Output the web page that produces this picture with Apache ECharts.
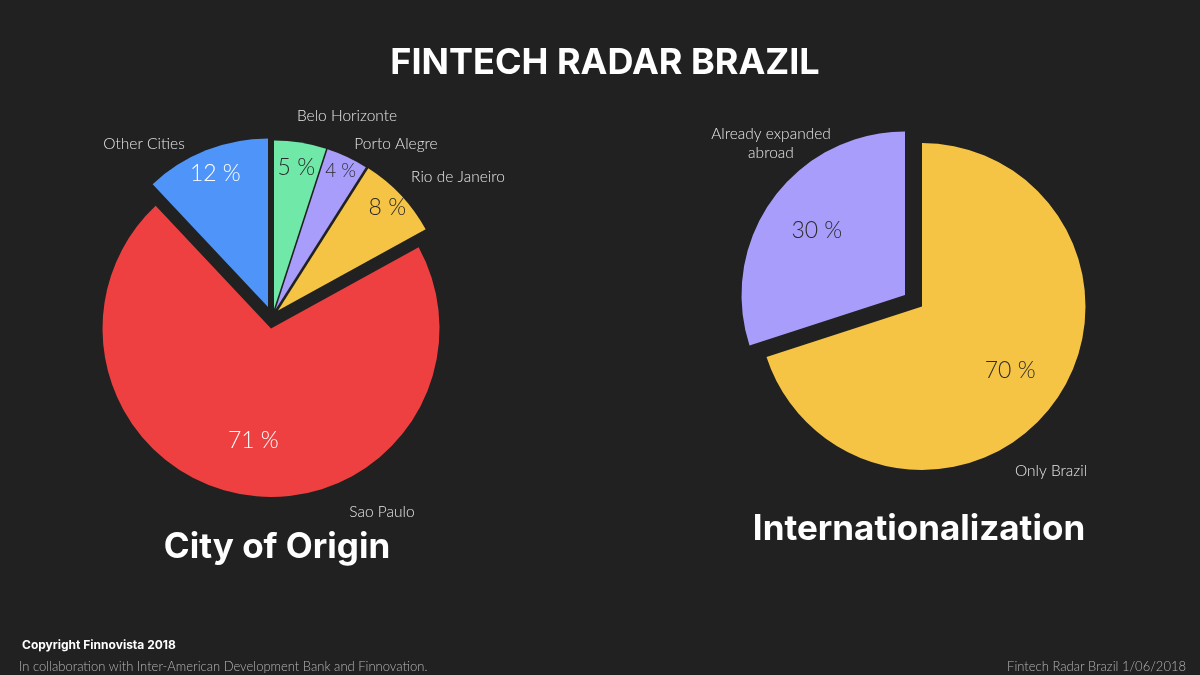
<!DOCTYPE html>
<html lang="en">
<head>
    <meta charset="UTF-8">
    <title>Fintech Radar Brazil</title>
    <script src="https://cdn.jsdelivr.net/npm/echarts@6.0.0/dist/echarts.min.js"></script>
    <style>
        html, body { margin: 0; padding: 0; background: #212121; }
    </style>
</head>
<body>
    <div id="main" style="width: 1200px; height: 675px;"></div>

    <script>
        // data, clockwise from 12 o'clock
        var cityNames = ['Belo Horizonte', 'Porto Alegre', 'Rio de Janeiro', 'Sao Paulo', 'Other Cities'];
        var cityValues = [5, 4, 8, 71, 12];
        var abroadNames = ['Only Brazil', 'Already expanded\nabroad'];
        var abroadValues = [70, 30];

        var chart = echarts.init(document.getElementById('main'));
        var labelFont = 'Lato';
        var dark = '#2b2b2b';

        // styling per slice: centre (the explode offset), colour, percent label radius and colour, name position
        var cityStyle = [
            {center: [274, 309], color: '#6fe8a8', r: 140, text: dark, name: [347, 116]},
            {center: [275.5, 309.5], color: '#a99dfb', r: 150, text: dark, name: [396, 144]},
            {center: [278, 310.5], color: '#f6c445', r: 147, text: dark, name: [458, 177]},
            {center: [271, 328.5], color: '#ee4040', r: 110, text: '#fff', name: [382, 512]},
            {center: [268, 307], color: '#4f94f8', r: 140, text: '#fff', name: [144, 144]}
        ];
        var abroadStyle = [
            {center: [922, 306.5], color: '#f6c445', r: 106, text: dark, name: [1051, 471]},
            {center: [905, 295], color: '#a99dfb', r: 106, text: dark, name: [771, 143]}
        ];

        // one series per slice so each can have its own offset, the other slices stay invisible
        function sliceSeries(names, values, style, radius) {
            var out = [];
            style.forEach(function (s, i) {
                function items(showLabel) {
                    return values.map(function (v, j) {
                        return {
                            value: v,
                            name: names[j],
                            itemStyle: {color: i === j ? s.color : 'transparent'},
                            label: {show: showLabel && i === j}
                        };
                    });
                }
                // the slice with its name
                out.push({
                    type: 'pie',
                    silent: true,
                    animation: false,
                    startAngle: 90,
                    center: s.center,
                    radius: [0, radius],
                    data: items(true),
                    label: {
                        color: '#e6e6e6',
                        fontFamily: labelFont,
                        fontWeight: 300,
                        fontSize: 15.5,
                        lineHeight: 19,
                        align: 'center',
                        formatter: '{b}'
                    },
                    labelLine: {show: false},
                    labelLayout: {x: s.name[0], y: s.name[1], align: 'center', verticalAlign: 'middle'}
                });
                // thin invisible ring that only carries the percent label
                out.push({
                    type: 'pie',
                    silent: true,
                    animation: false,
                    startAngle: 90,
                    center: s.center,
                    radius: [s.r - 10, s.r + 10],
                    data: items(true).map(function (d) {
                        d.itemStyle = {color: 'transparent'};
                        return d;
                    }),
                    label: {
                        position: 'inside',
                        color: s.text,
                        fontFamily: labelFont,
                        fontWeight: 300,
                        fontSize: s.r === 150 ? 19 : 23,
                        formatter: '{c} %'
                    },
                    labelLine: {show: false}
                });
            });
            return out;
        }

        var option = {
            backgroundColor: '#212121',
            title: [
                {
                    text: 'FINTECH RADAR BRAZIL',
                    left: 600, top: 40,
                    textAlign: 'center',
                    textStyle: {color: '#fff', fontFamily: 'Inter', fontWeight: 700, fontSize: 36}
                },
                {
                    text: 'City of Origin',
                    left: 272, top: 525,
                    textAlign: 'center',
                    textStyle: {color: '#fff', fontFamily: 'Inter', fontWeight: 700, fontSize: 35}
                },
                {
                    text: 'Internationalization',
                    left: 914, top: 507,
                    textAlign: 'center',
                    textStyle: {color: '#fff', fontFamily: 'Inter', fontWeight: 700, fontSize: 35}
                },
                {
                    text: 'Copyright Finnovista 2018',
                    left: 17, top: 634,
                    textStyle: {color: '#fff', fontFamily: 'Inter', fontWeight: 700, fontSize: 12}
                },
                {
                    text: 'In collaboration with Inter-American Development Bank and Finnovation.',
                    left: 14, top: 655,
                    textStyle: {color: '#b5b5b5', fontFamily: labelFont, fontWeight: 300, fontSize: 13}
                },
                {
                    text: 'Fintech Radar Brazil 1/06/2018',
                    right: 9, top: 655,
                    textStyle: {color: '#b5b5b5', fontFamily: labelFont, fontWeight: 300, fontSize: 13}
                }
            ],
            series: sliceSeries(cityNames, cityValues, cityStyle, 168.5)
                .concat(sliceSeries(abroadNames, abroadValues, abroadStyle, 163.5))
        };

        chart.setOption(option);
    </script>
</body>
</html>
